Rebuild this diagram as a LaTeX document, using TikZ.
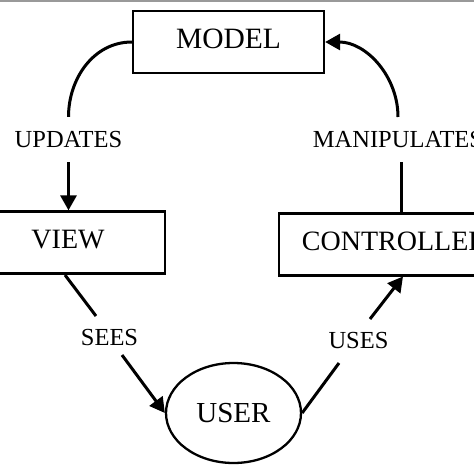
\documentclass[tikz,border=0pt]{standalone}
\usepackage{fontspec}
\setmainfont{Liberation Serif}
\usetikzlibrary{arrows.meta,shapes.geometric}
\begin{document}
\begin{tikzpicture}[x=1pt,y=-1pt,
  box/.style={draw=black,line width=2.3pt,rectangle,inner sep=0pt,
    font=\fontsize{28}{28}\selectfont,text depth=7pt},
  oval/.style={draw=black,line width=2.3pt,ellipse,inner sep=0pt,
    font=\fontsize{29}{29}\selectfont},
  lbl/.style={inner sep=0pt,minimum height=45pt,font=\fontsize{24.5}{24.5}\selectfont},
  conn/.style={draw=black,line width=3pt},
  tip/.style={-{Triangle[length=15pt,width=16pt]}}
]
\useasboundingbox (0,0) rectangle (474,474);
\begin{scope}
\clip (0,0) rectangle (474,474);
\fill[gray!80] (0,0) rectangle (474,2);
\node[box,minimum width=191pt,minimum height=62pt,font=\fontsize{29.5}{29.5}\selectfont] (MODEL) at (228.5,42) {MODEL};
\node[box,minimum width=194pt,minimum height=62pt] (VIEW) at (68,242.5) {VIEW};
\node[box,minimum width=231pt,minimum height=62pt] (CTRL) at (394.5,244.5) {CONTROLLER};
\node[oval,minimum width=135pt,minimum height=100pt] (USER) at (233.5,413) {USER};
\node[lbl] (UPDATES) at (68.5,139.5) {UPDATES};
\node[lbl] (MANIP) at (398,139.5) {MANIPULATES};
\node[lbl] (SEES) at (109.5,338) {SEES};
\node[lbl] (USES) at (358.5,340.5) {USES};
\coordinate (mb) at (401,162);
\coordinate (mt) at (398,117);
\coordinate (v1) at (65,275);
\coordinate (s1) at (96,316);
\coordinate (s2) at (122,355);
\coordinate (u1) at (339,363);
\coordinate (u2) at (370,319);
\draw[conn] (MODEL.west) to[out=180,in=90] (UPDATES.north);
\draw[conn,tip] (UPDATES.south) -- (UPDATES.south |- VIEW.north);
\draw[conn] (mb |- CTRL.north) -- (mb);
\draw[conn,tip] (mt) to[out=90,in=0] (MODEL.east);
\draw[conn] (v1) -- (s1);
\draw[conn,tip] (s2) -- (USER.west);
\draw[conn] (USER.east) -- (u1);
\draw[conn,tip] (u2) -- (403,276.5);
\end{scope}
\end{tikzpicture}
\end{document}
